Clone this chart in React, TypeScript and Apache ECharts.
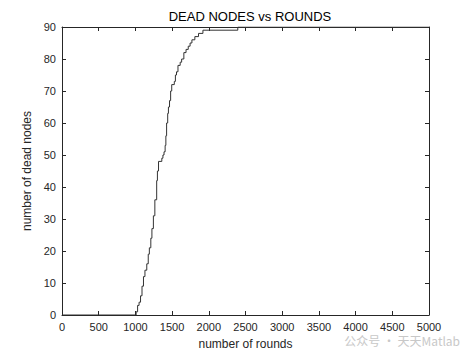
import React, { useEffect, useRef } from "react";
import * as echarts from "echarts";

const rounds = [0, 1000, 1010, 1030, 1050, 1070, 1090, 1110, 1130, 1155, 1175, 1190, 1210, 1225, 1245, 1265, 1290, 1300, 1315, 1360, 1375, 1390, 1405, 1415, 1425, 1440, 1450, 1465, 1480, 1495, 1530, 1545, 1560, 1580, 1610, 1630, 1660, 1690, 1720, 1745, 1770, 1810, 1860, 1920, 2395, 5000];
const deadNodes = [0, 0, 1, 3, 4, 6, 9, 12, 14, 16, 19, 21, 24, 27, 31, 36, 42, 45, 48, 49, 50, 51, 53, 56, 60, 63, 65, 67, 70, 72, 73, 75, 76, 78, 79, 80, 82, 83, 84, 85, 86, 87, 88, 89, 90, 90];

const titleText = "DEAD NODES vs ROUNDS";
const xName = "number of rounds";
const yName = "number of dead nodes";
const watermark = "公众号 · 天天Matlab";

export default function App() {
  const ref = useRef<HTMLDivElement>(null);
  useEffect(() => {
    if (!ref.current) return;
    const chart = echarts.init(ref.current, undefined, { renderer: "svg" });
    const axisColor = "#262626";
    const font = "Liberation Sans, Arial, sans-serif";
    const tickCommon = { show: true, inside: true, length: 4, lineStyle: { color: axisColor } };
    const lineCommon = { show: true, onZero: false, lineStyle: { color: axisColor } };
    const fmt = (v: number) => String(v);
    chart.setOption({
      animation: false,
      backgroundColor: "#ffffff",
      title: {
        text: titleText,
        left: 245,
        textAlign: "center",
        top: 5,
        textStyle: { fontFamily: font, fontSize: 13, fontWeight: "normal", color: "#000" },
      },
      grid: { left: 62, right: 45, top: 27, bottom: 39, containLabel: false },
      xAxis: [
        {
          type: "value",
          min: 0,
          max: 5000,
          interval: 500,
          name: xName,
          nameLocation: "middle",
          nameGap: 23,
          nameTextStyle: { fontFamily: font, fontSize: 12, color: axisColor },
          axisLine: lineCommon,
          axisTick: tickCommon,
          axisLabel: { fontFamily: font, fontSize: 11, color: axisColor, margin: 6, formatter: fmt },
          splitLine: { show: false },
        },
        {
          type: "value",
          position: "top",
          min: 0,
          max: 5000,
          interval: 500,
          axisLine: lineCommon,
          axisTick: tickCommon,
          axisLabel: { show: false },
          splitLine: { show: false },
        },
      ],
      yAxis: [
        {
          type: "value",
          min: 0,
          max: 90,
          interval: 10,
          name: yName,
          nameLocation: "middle",
          nameGap: 29,
          nameTextStyle: { fontFamily: font, fontSize: 12, color: axisColor },
          axisLine: lineCommon,
          axisTick: tickCommon,
          axisLabel: { fontFamily: font, fontSize: 11, color: axisColor, margin: 6, formatter: fmt },
          splitLine: { show: false },
        },
        {
          type: "value",
          position: "right",
          min: 0,
          max: 90,
          interval: 10,
          axisLine: lineCommon,
          axisTick: tickCommon,
          axisLabel: { show: false },
          splitLine: { show: false },
        },
      ],
      graphic: [
        {
          type: "text",
          right: 14,
          top: 334,
          style: { text: watermark, fontFamily: "Noto Sans CJK SC, sans-serif", fontSize: 12, fill: "#c8c8c8" },
        },
      ],
      series: [
        {
          type: "line",
          step: "end",
          xAxisIndex: 0,
          yAxisIndex: 0,
          showSymbol: false,
          symbol: "none",
          lineStyle: { color: "#333333", width: 1 },
          data: rounds.map((r, i) => [r, deadNodes[i]]),
        },
      ],
    });
    return () => chart.dispose();
  }, []);
  return <div ref={ref} style={{ width: 474, height: 355, marginLeft: -8, marginTop: -8 }} />;
}
